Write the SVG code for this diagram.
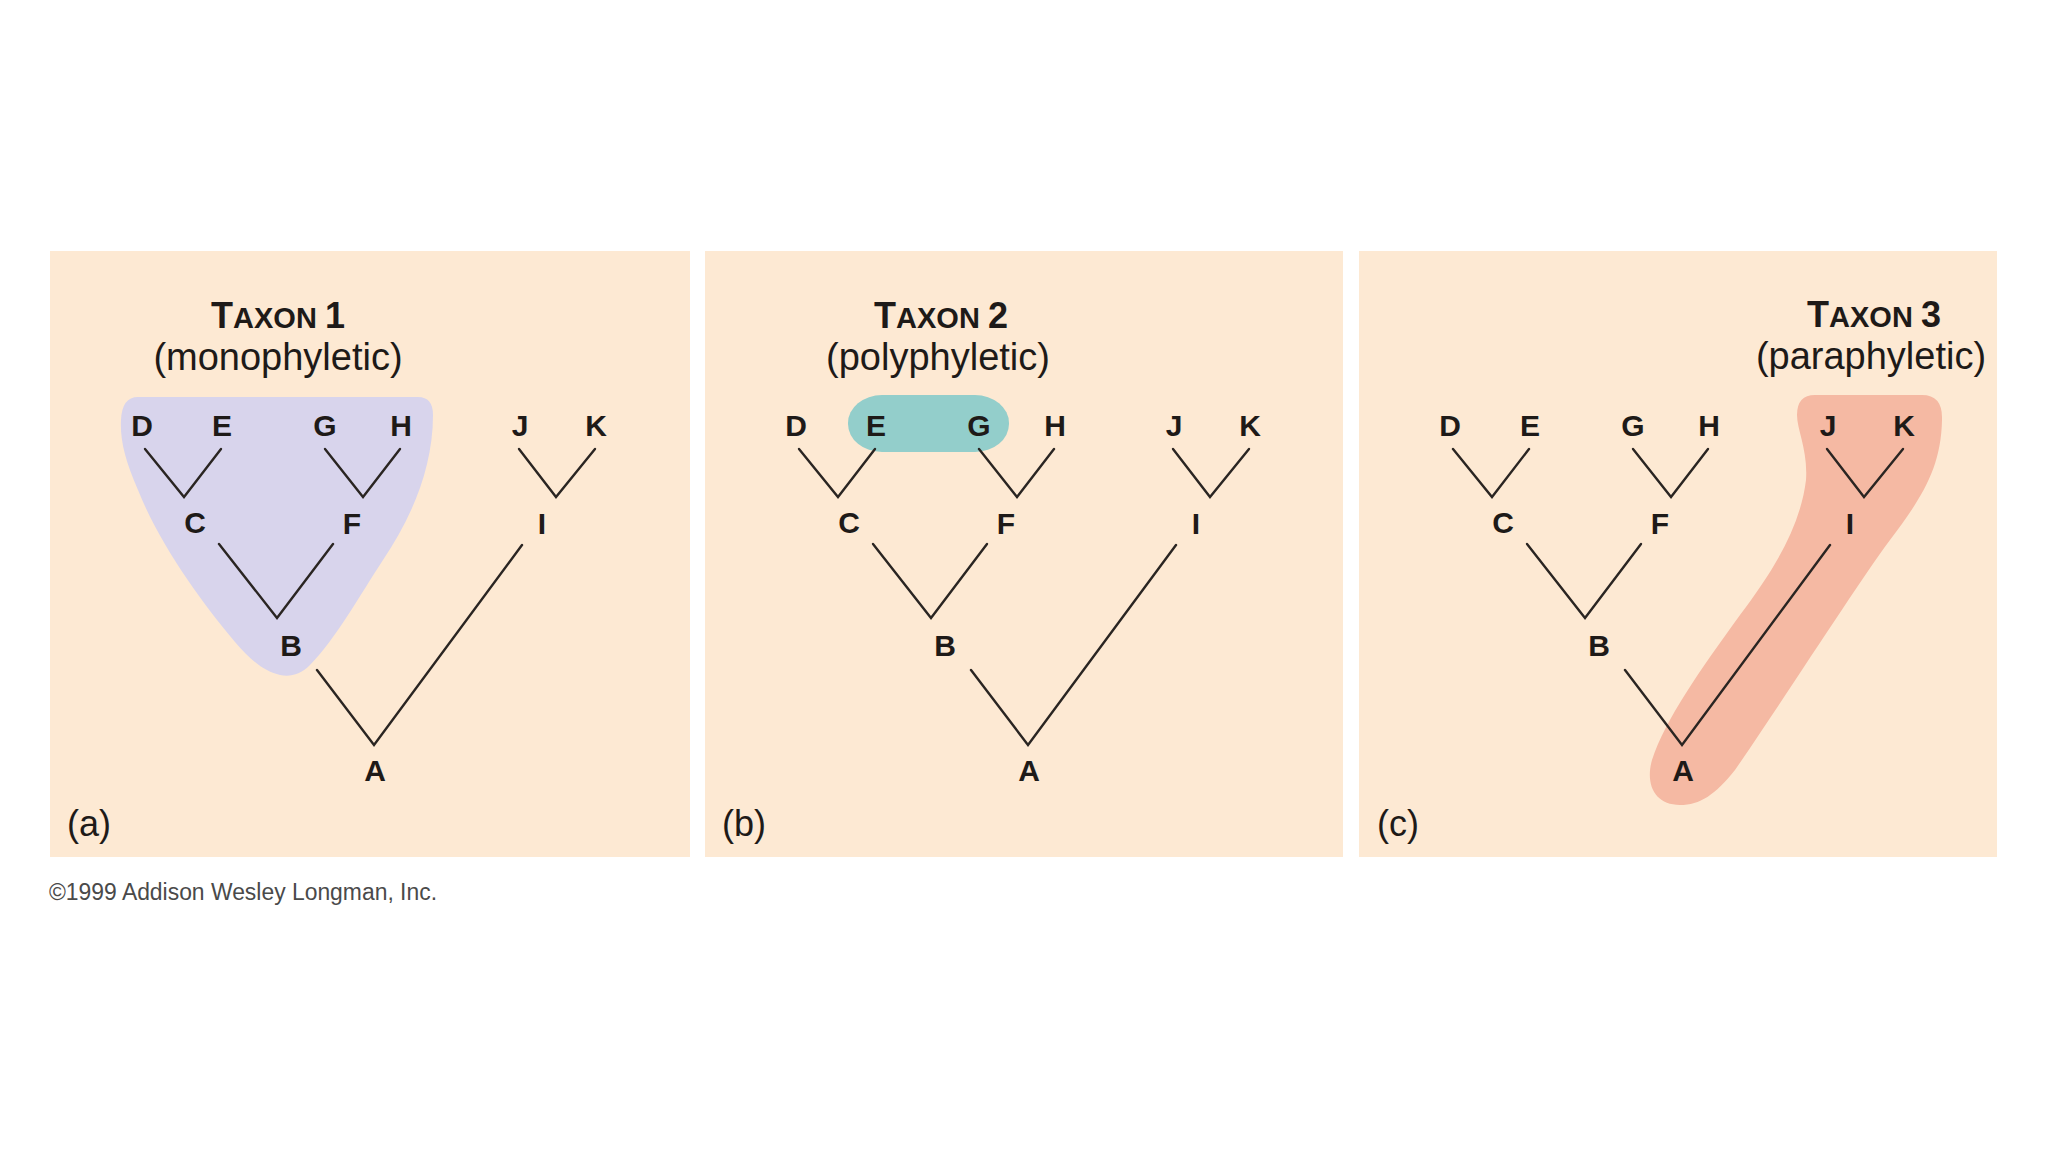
<svg xmlns="http://www.w3.org/2000/svg" width="2048" height="1152" viewBox="0 0 2048 1152">
<style>
.bg{fill:#ffffff}
.panel{fill:#FDE9D3}
.edge{stroke:#2a2522;stroke-width:2.4;fill:none;stroke-linecap:round;stroke-linejoin:miter}
.lbl{font-family:"Liberation Sans",Arial,sans-serif;font-weight:bold;font-size:30px;text-anchor:middle;fill:#1e1a18}
.tx{font-family:"Liberation Sans",Arial,sans-serif;font-weight:bold;fill:#1e1a18;text-anchor:middle}
.big{font-size:36px}
.sm{font-size:29px}
.sub{font-family:"Liberation Sans",Arial,sans-serif;font-size:38px;fill:#1e1a18;text-anchor:middle}
.pl{font-family:"Liberation Sans",Arial,sans-serif;font-size:36px;fill:#1e1a18}
.copy{font-family:"Liberation Sans",Arial,sans-serif;font-size:23px;fill:#4a4a4a}
</style>
<defs>
<g id="treeEdges">
<path d="M145 449 L184 497 L221 449"/>
<path d="M325 449 L363 497 L400 449"/>
<path d="M519 449 L556 497 L595 449"/>
<path d="M219 544 L277 618 L333 544"/>
<path d="M317 670 L374 745 L522 545"/>
</g>
</defs>
<rect class="bg" x="0" y="0" width="2048" height="1152"/>

<!-- Panel a -->
<g id="panel-a">
<rect class="panel" x="50" y="251" width="640" height="606"/>
<path id="taxon1-highlight" fill="#D8D4EC" d="M138 397 L418 397 Q433 397 433 415 C433 470 410 520 383 560 C360 595 335 640 310 665 C300 675 290 677 280 675 C265 672 250 660 235 642 C200 600 160 545 138 490 C125 460 120 440 121 420 Q122 397 138 397 Z"/>
<text class="tx" x="278" y="328"><tspan class="big">T</tspan><tspan class="sm">AXON </tspan><tspan class="big">1</tspan></text>
<text class="sub" x="278" y="370">(monophyletic)</text>
<text class="pl" x="67" y="836">(a)</text>
<g id="a-connectors" class="edge"><use href="#treeEdges"/></g>
<g id="a-nodes" class="lbl">
<g id="a-D"><text x="142" y="436">D</text></g>
<g id="a-E"><text x="222" y="436">E</text></g>
<g id="a-G"><text x="325" y="436">G</text></g>
<g id="a-H"><text x="401" y="436">H</text></g>
<g id="a-J"><text x="520" y="436">J</text></g>
<g id="a-K"><text x="596" y="436">K</text></g>
<g id="a-C"><text x="195" y="533">C</text></g>
<g id="a-F"><text x="352" y="534">F</text></g>
<g id="a-I"><text x="542" y="534">I</text></g>
<g id="a-B"><text x="291" y="656">B</text></g>
<g id="a-A"><text x="375" y="781">A</text></g>
</g>
</g>

<!-- Panel b -->
<g id="panel-b">
<rect class="panel" x="705" y="251" width="638" height="606"/>
<rect id="taxon2-highlight" fill="#93CECB" x="848" y="395" width="161" height="57" rx="34" ry="28"/>
<text class="tx" x="941" y="328"><tspan class="big">T</tspan><tspan class="sm">AXON </tspan><tspan class="big">2</tspan></text>
<text class="sub" x="938" y="370">(polyphyletic)</text>
<text class="pl" x="722" y="836">(b)</text>
<g transform="translate(654,0)">
<g id="b-connectors" class="edge"><use href="#treeEdges"/></g>
<g id="b-nodes" class="lbl">
<g id="b-D"><text x="142" y="436">D</text></g>
<g id="b-E"><text x="222" y="436">E</text></g>
<g id="b-G"><text x="325" y="436">G</text></g>
<g id="b-H"><text x="401" y="436">H</text></g>
<g id="b-J"><text x="520" y="436">J</text></g>
<g id="b-K"><text x="596" y="436">K</text></g>
<g id="b-C"><text x="195" y="533">C</text></g>
<g id="b-F"><text x="352" y="534">F</text></g>
<g id="b-I"><text x="542" y="534">I</text></g>
<g id="b-B"><text x="291" y="656">B</text></g>
<g id="b-A"><text x="375" y="781">A</text></g>
</g>
</g>
</g>

<!-- Panel c -->
<g id="panel-c">
<rect class="panel" x="1359" y="251" width="638" height="606"/>
<path id="taxon3-highlight" fill="#F5B9A3" d="M1815 395 L1922 395 Q1943 395 1942 420 C1941 470 1920 500 1890 540 C1860 580 1790 690 1735 770 C1715 795 1700 805 1680 805 C1655 805 1645 785 1652 760 C1665 720 1700 670 1740 615 C1770 575 1800 530 1806 480 C1808 450 1797 430 1797 415 Q1797 395 1815 395 Z"/>
<text class="tx" x="1874" y="327"><tspan class="big">T</tspan><tspan class="sm">AXON </tspan><tspan class="big">3</tspan></text>
<text class="sub" x="1871" y="369">(paraphyletic)</text>
<text class="pl" x="1377" y="836">(c)</text>
<g transform="translate(1308,0)">
<g id="c-connectors" class="edge"><use href="#treeEdges"/></g>
<g id="c-nodes" class="lbl">
<g id="c-D"><text x="142" y="436">D</text></g>
<g id="c-E"><text x="222" y="436">E</text></g>
<g id="c-G"><text x="325" y="436">G</text></g>
<g id="c-H"><text x="401" y="436">H</text></g>
<g id="c-J"><text x="520" y="436">J</text></g>
<g id="c-K"><text x="596" y="436">K</text></g>
<g id="c-C"><text x="195" y="533">C</text></g>
<g id="c-F"><text x="352" y="534">F</text></g>
<g id="c-I"><text x="542" y="534">I</text></g>
<g id="c-B"><text x="291" y="656">B</text></g>
<g id="c-A"><text x="375" y="781">A</text></g>
</g>
</g>
</g>

<text class="copy" x="49" y="900" textLength="388" lengthAdjust="spacingAndGlyphs">©1999 Addison Wesley Longman, Inc.</text>
</svg>
